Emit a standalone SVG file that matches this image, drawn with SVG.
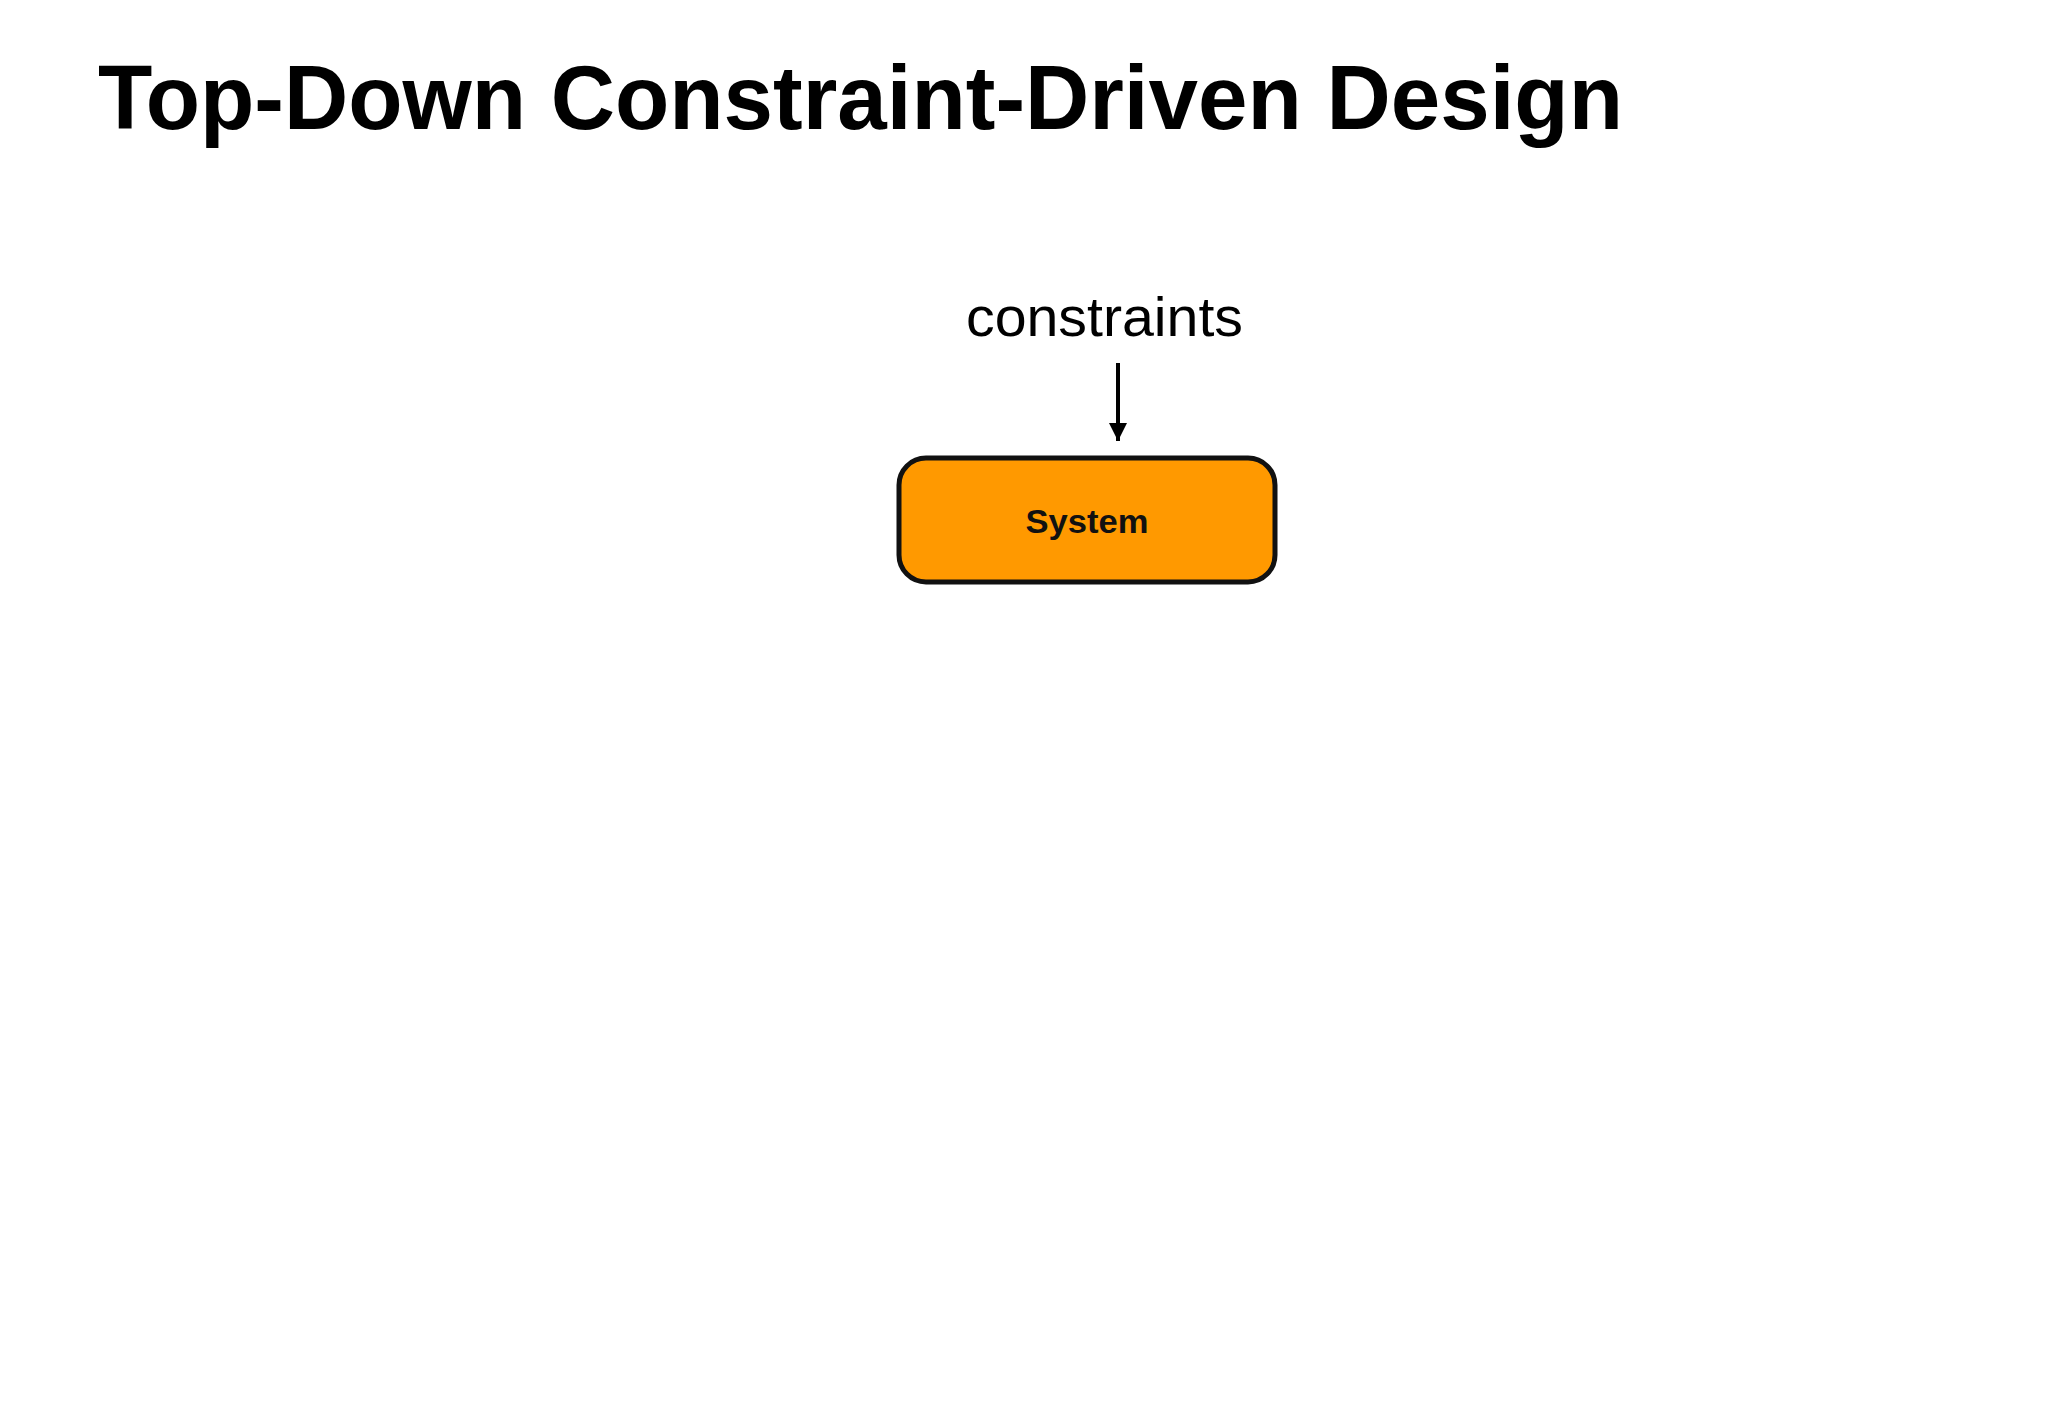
<svg xmlns="http://www.w3.org/2000/svg" width="2048" height="1418" viewBox="0 0 2048 1418">
<style>
.title{font-family:"Liberation Sans",Arial,sans-serif;font-weight:bold;font-size:90px;fill:#000}
.lbl{font-family:"Liberation Sans",Arial,sans-serif;font-size:55px;fill:#000}
.node rect{fill:#FF9900;stroke:#111;stroke-width:5}
.node text{font-family:"Liberation Sans",Arial,sans-serif;font-weight:bold;font-size:34px;fill:#111}
.conn{stroke:#000;stroke-width:4;fill:none}
</style>
<defs>
<marker id="ah" markerUnits="userSpaceOnUse" markerWidth="18" markerHeight="20" refX="18" refY="9" orient="auto">
<path d="M0,0 L18,9 L0,18 Z" fill="#000"/>
</marker>
</defs>
<rect width="2048" height="1418" fill="#fff"/>
<text class="title" x="98" y="129" textLength="1525" lengthAdjust="spacingAndGlyphs">Top-Down Constraint-Driven Design</text>
<g id="constraints-label">
<text class="lbl" x="966" y="336" textLength="277" lengthAdjust="spacingAndGlyphs">constraints</text>
</g>
<g id="connectors">
<line class="conn" x1="1118" y1="363" x2="1118" y2="441" marker-end="url(#ah)"/>
</g>
<g id="system" class="node">
<rect x="899" y="458" width="376" height="124" rx="27" ry="27"/>
<text x="1087" y="533" text-anchor="middle" textLength="123" lengthAdjust="spacingAndGlyphs">System</text>
</g>
</svg>
